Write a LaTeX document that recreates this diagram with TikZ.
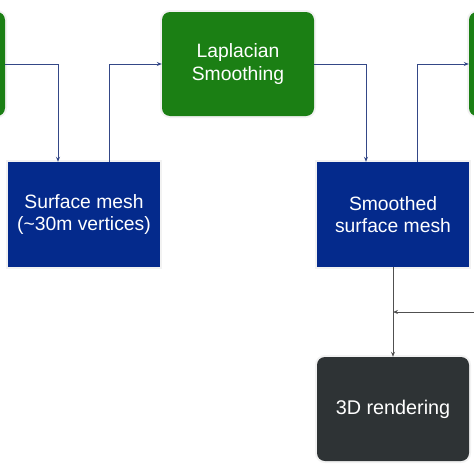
\documentclass[tikz,border=0pt]{standalone}
\usepackage{fontspec}
\setmainfont{Liberation Sans}
\usetikzlibrary{arrows.meta}

\definecolor{stepgreen}{RGB}{27,127,20}
\definecolor{meshblue}{RGB}{4,42,140}
\definecolor{renddark}{RGB}{46,51,53}
\definecolor{linkblue}{RGB}{52,72,135}
\definecolor{linkgray}{RGB}{80,80,80}

\tikzset{
  box/.style={minimum width=152pt, minimum height=104pt, text=white, align=center,
    font=\fontsize{19.3}{22.8}\selectfont, inner sep=0pt,
    preaction={draw=black!5, line width=4pt}},
  opbox/.style={box, fill=stepgreen, rounded corners=8pt},
  databox/.style={box, fill=meshblue, minimum height=105pt},
  outbox/.style={box, fill=renddark, rounded corners=8pt, font=\fontsize{19.8}{23}\selectfont},
  flow/.style={draw=linkblue, line width=1pt, -{Stealth[length=5pt,width=4pt]}},
  flowgray/.style={draw=linkgray, line width=1pt, -{Stealth[length=5pt,width=4pt]}}
}

\begin{document}
\begin{tikzpicture}[x=1pt,y=-1pt]
    \useasboundingbox (0,0) rectangle (474,474);
    \clip (0,0) rectangle (474,474);
    \node[opbox] (prevop) at (-71,64) {};
    \node[opbox] (lap) at (238,64) {Laplacian\\Smoothing};
    \node[opbox] (nextop) at (545,64) {};
    \node[databox] (surf) at (84,214.5) {Surface mesh\\(\textasciitilde30m vertices)};
    \node[databox] (smooth) at (393,214.5) {Smoothed\\surface mesh};
    \node[outbox] (render) at (393,409) {3D rendering};
    \coordinate (feed) at (476,312);
    \draw[flow] (prevop.east) -| ([xshift=-26pt]surf.north);
    \draw[flow] ([xshift=25pt]surf.north) |- (lap.west);
    \draw[flow] (lap.east) -| ([xshift=-27pt]smooth.north);
    \draw[flow] ([xshift=24pt]smooth.north) |- (nextop.west);
    \draw[flowgray] (smooth.south) -- (render.north);
    \draw[flowgray] (feed) -- (feed -| smooth.south);
  \end{tikzpicture}
\end{document}
